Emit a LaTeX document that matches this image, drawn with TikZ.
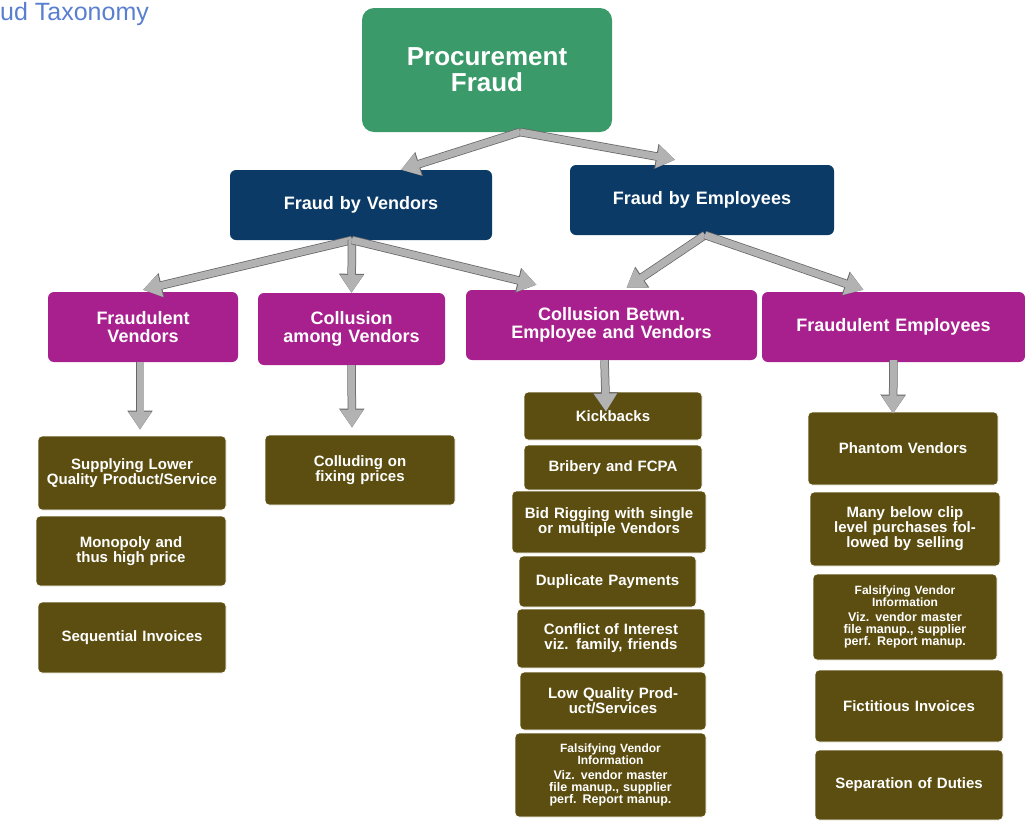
\documentclass[tikz,border=0pt]{standalone}
\usepackage{fontspec}
\setmainfont{Liberation Sans}
\usetikzlibrary{arrows.meta,calc}
\definecolor{pgreen}{HTML}{3A9A6A}
\definecolor{pnavy}{HTML}{0B3A66}
\definecolor{pmag}{HTML}{A8208E}
\definecolor{polive}{HTML}{5C4E10}
\definecolor{ptitle}{HTML}{5A7FD0}
\newcommand\bx[8]{\node[#2, minimum width={#5pt-#3pt}, minimum height={#6pt-#4pt}, text width={#5pt-#3pt-8pt}, font=\bfseries\fontsize{#8}{#8}\selectfont] (#1) at ({(#3+#5)/2},{(#4+#6)/2}) {#7};}
\tikzset{
 b/.style={rounded corners=6pt, align=center, text=white, inner sep=2pt},
 g/.style={b, fill=pgreen, rounded corners=12pt},
 n/.style={b, fill=pnavy},
 m/.style={b, fill=pmag},
 o/.style={b, fill=polive, draw=white, line width=0.8pt, rounded corners=4pt},
 arr/.style={draw=gray!60, line width=7pt, -{Triangle[length=18pt,width=22pt]},
   preaction={draw=gray!80!black, line width=8.5pt, -{Triangle[length=19pt,width=24pt]}}},
}
\begin{document}
\begin{tikzpicture}[x=1pt,y=-1pt]
\useasboundingbox[fill=white] (0,0) rectangle (1025,831);
\node[anchor=north west, text=ptitle, font=\fontsize{25}{25}\selectfont, inner sep=0] (title) at (0,2) {ud Taxonomy};
\bx{pf}{g}{362}{8}{612}{132}{Procurement\\Fraud}{26}
\bx{fbv}{n}{230}{170}{492}{240}{Fraud by Vendors}{18}
\bx{fbe}{n}{570}{165}{834}{235}{Fraud by Employees}{18}
\bx{fv}{m}{48}{292}{238}{362}{Fraudulent\\Vendors}{18}
\bx{cav}{m}{258}{293}{445}{365}{Collusion\\among Vendors}{18}
\bx{cbev}{m}{466}{290}{757}{360}{Collusion Betwn.\\Employee and Vendors}{18}
\bx{fe}{m}{762}{292}{1025}{362}{Fraudulent Employees}{18}
% left column
\bx{l1}{o}{38}{436}{226}{510}{Supplying Lower Quality Product/Service}{15}
\bx{l2}{o}{36}{516}{226}{586}{Monopoly and thus high price}{15}
\bx{l3}{o}{38}{602}{226}{673}{Sequential Invoices}{15}
\bx{c1}{o}{265}{435}{455}{505}{Colluding on fixing prices}{15}
% middle column
\bx{k1}{o}{524}{392}{702}{440}{Kickbacks}{15}
\bx{k2}{o}{524}{445}{702}{490}{Bribery and FCPA}{15}
\bx{k3}{o}{512}{491}{706}{553}{Bid Rigging with single or multiple Vendors}{15}
\bx{k4}{o}{519}{556}{696}{607}{Duplicate Payments}{15}
\bx{k5}{o}{517}{609}{705}{668}{Conflict of Interest viz. family, friends}{15}
\bx{k6}{o}{520}{672}{706}{730}{Low Quality Product/Services}{15}
\bx{k7}{o}{515}{733}{706}{817}{{\fontsize{12}{11}\selectfont Falsifying Vendor\\Information}\\[3pt]{\fontsize{12.5}{12.5}\selectfont Viz. vendor master file manup., supplier perf. Report manup.}}{12}
% right column
\bx{r1}{o}{808}{412}{998}{485}{Phantom Vendors}{15}
\bx{r2}{o}{810}{492}{1000}{566}{Many below clip level purchases followed by selling}{15}
\bx{r3}{o}{813}{574}{997}{660}{{\fontsize{12}{11}\selectfont Falsifying Vendor\\Information}\\[3pt]{\fontsize{12.5}{12.5}\selectfont Viz. vendor master file manup., supplier perf. Report manup.}}{12}
\bx{r4}{o}{815}{670}{1003}{742}{Fictitious Invoices}{15}
\bx{r5}{o}{815}{750}{1003}{820}{Separation of Duties}{15}
% arrows
\coordinate (p0) at (520,132);
\draw[arr] (p0) -- ($(fbv.north)+(40,0)$);
\draw[arr] (p0) -- ($(fbe.north)+(-27,-5)$);
\coordinate (v0) at (352,240);
\draw[arr] (v0) -- ($(fv.north)+(0,-2)$);
\draw[arr] (v0) -- (cav.north);
\draw[arr] (v0) -- ($(cbev.north)+(-75,-5)$);
\coordinate (e0) at (705,235);
\draw[arr] (e0) -- ($(cbev.north)+(15,-2)$);
\draw[arr] (e0) -- ($(fe.north)+(-30,-2)$);
\draw[arr] ($(fv.south)+(-3,0)$) -- ($(l1.north)+(8,-6)$);
\draw[arr] (cav.south) -- ($(c1.north)+(-8,-7)$);
\draw[arr] ($(cbev.south)+(-7,0)$) -- ($(k1.north)+(-7,20)$);
\draw[arr] ($(fe.south)+(0,-2)$) -- ($(r1.north)+(-10,2)$);
\end{tikzpicture}
\end{document}
